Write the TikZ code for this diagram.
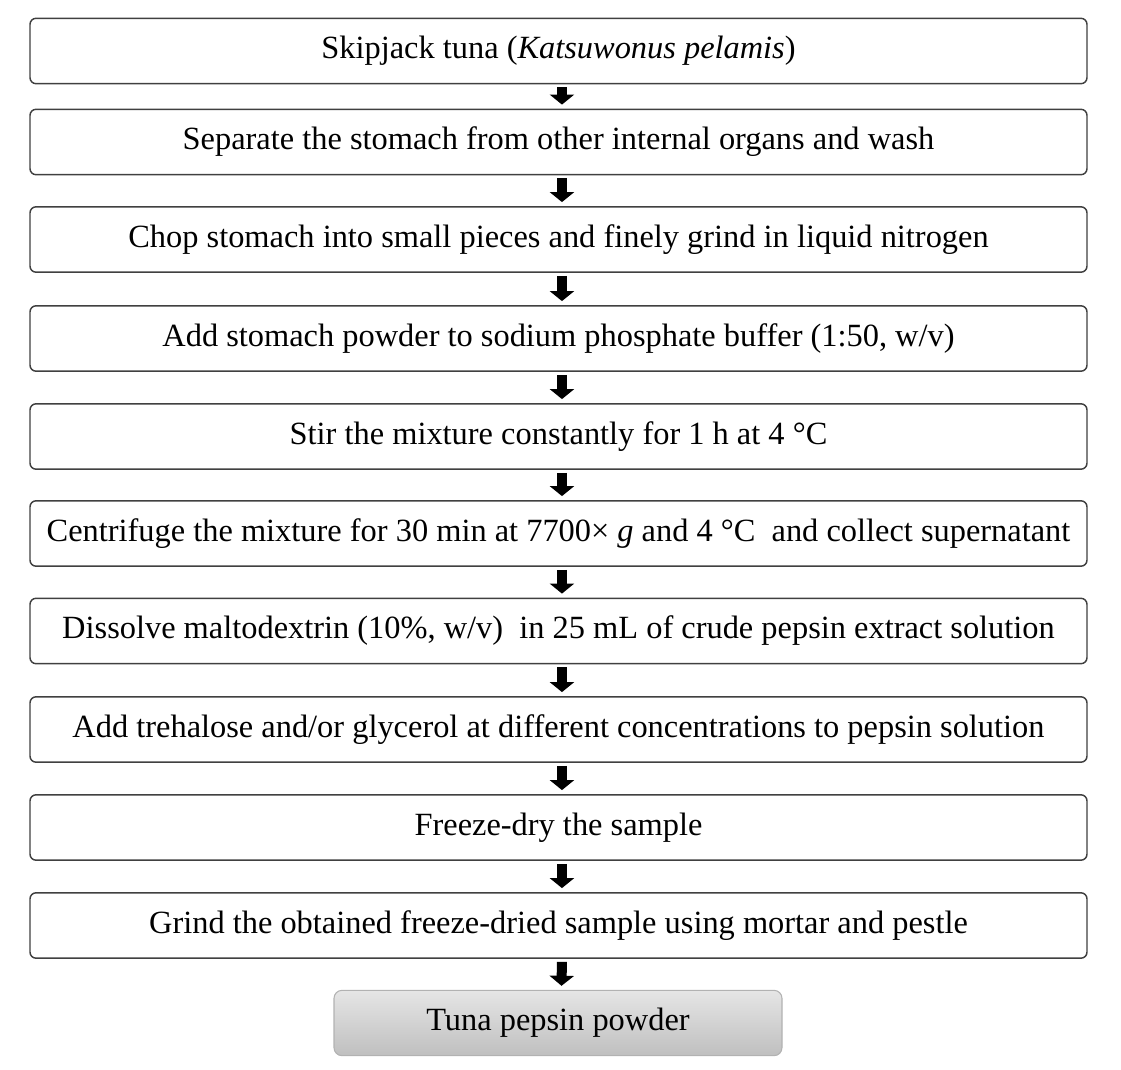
\documentclass[tikz,border=0pt]{standalone}
\usepackage{fontspec}
\setmainfont{Liberation Serif}
\usetikzlibrary{arrows.meta}
\begin{document}
\begin{tikzpicture}[x=0.75pt,y=-0.75pt,
  stepbox/.style={draw=black!75,line width=1.1pt,rounded corners=4.5pt,fill=white,
    minimum width=792.75pt,minimum height=49pt,inner sep=0pt,font=\fontsize{24.3}{28}\selectfont},
  endbox/.style={draw=black!30,line width=0.8pt,rounded corners=6pt,
    top color=black!10,bottom color=black!25,
    minimum width=336pt,minimum height=49pt,inner sep=0pt,font=\fontsize{24.3}{28}\selectfont},
  flowarrow/.style={line width=7.5pt,-{Triangle[width=18pt,length=7.5pt]},shorten <=2.2pt,shorten >=3pt}
]
\useasboundingbox (0,0) rectangle (1121,1070);
\node[stepbox] (b1) at (558.5,51) {Skipjack tuna (\textit{Katsuwonus pelamis})};
\node[stepbox] (b2) at (558.5,142) {Separate the stomach from other internal organs and wash};
\node[stepbox] (b3) at (558.5,239.5) {Chop stomach into small pieces and finely grind in liquid nitrogen};
\node[stepbox] (b4) at (558.5,338.5) {Add stomach powder to sodium phosphate buffer (1:50, w/v)};
\node[stepbox] (b5) at (558.5,436.5) {Stir the mixture constantly for 1 h at 4 °C};
\node[stepbox] (b6) at (558.5,533.5) {Centrifuge the mixture for 30 min at 7700× \textit{g} and 4 °C\ \ and collect supernatant};
\node[stepbox] (b7) at (558.5,631) {Dissolve maltodextrin (10\%, w/v)\ \ in 25 mL of crude pepsin extract solution};
\node[stepbox] (b8) at (558.5,729.5) {Add trehalose and/or glycerol at different concentrations to pepsin solution};
\node[stepbox] (b9) at (558.5,827.5) {Freeze-dry the sample};
\node[stepbox] (b10) at (558.5,925.5) {Grind the obtained freeze-dried sample using mortar and pestle};
\node[endbox] (b11) at (558,1023) {Tuna pepsin powder};
\foreach \a/\b in {b1/b2,b2/b3,b3/b4,b4/b5,b5/b6,b6/b7,b7/b8,b8/b9,b9/b10,b10/b11}
  \draw[flowarrow] ([xshift=2.6pt]\a.south) -- ([xshift=2.6pt]\b.north);
\end{tikzpicture}
\end{document}
